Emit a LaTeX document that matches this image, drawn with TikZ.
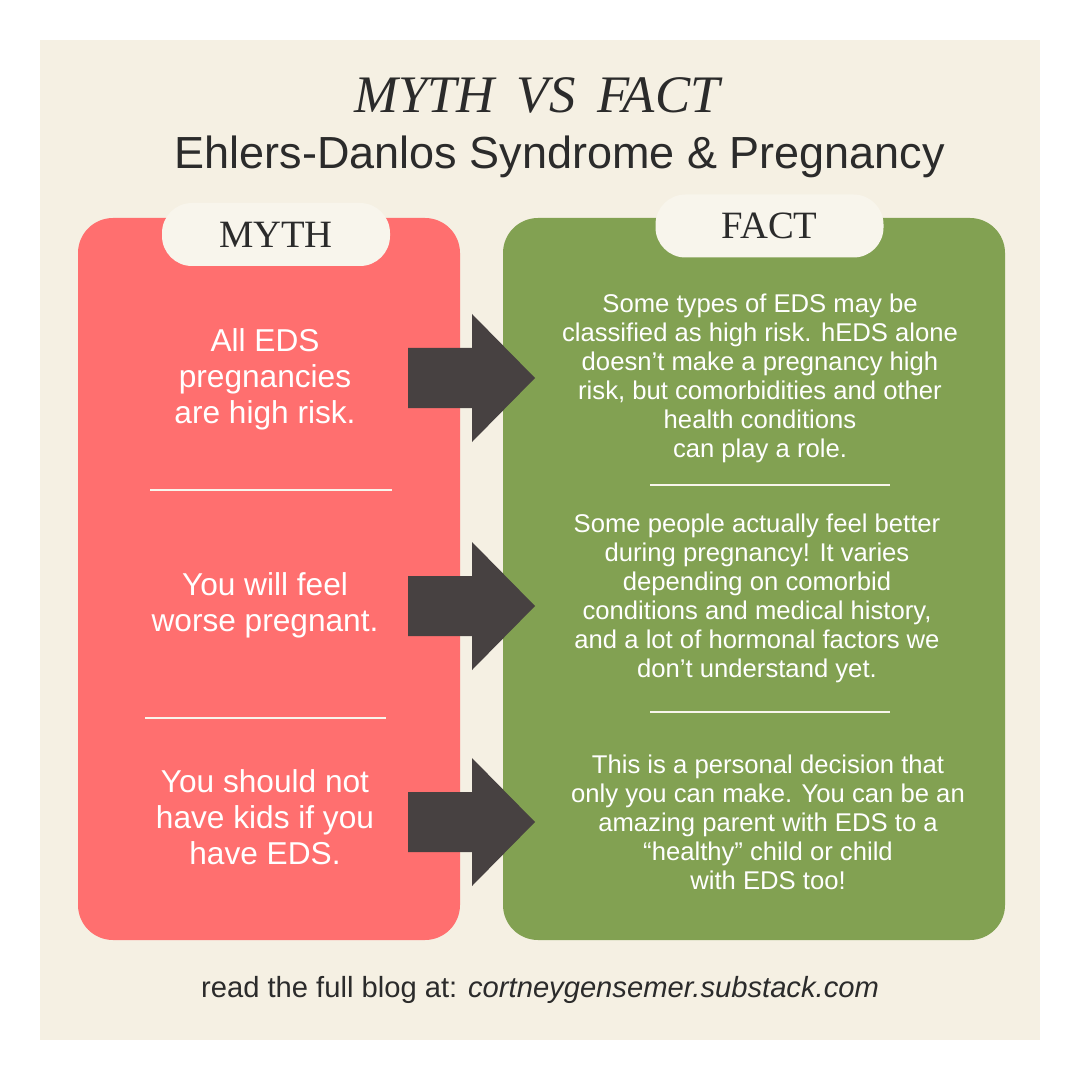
\documentclass[tikz,border=0pt]{standalone}
\usepackage{fontspec}
\setmainfont{Liberation Sans}
\newfontfamily\titlefont{Liberation Serif}
\definecolor{beige}{HTML}{F5F0E3}
\definecolor{mythred}{HTML}{FF6F6F}
\definecolor{factgreen}{HTML}{82A152}
\definecolor{pill}{HTML}{F8F5EC}
\definecolor{arrowgray}{HTML}{474141}
\definecolor{ink}{HTML}{2B2B2B}
\tikzset{
  panel/.style={rounded corners=0.35cm},
  pilltag/.style={fill=pill, rounded corners=0.3cm, minimum width=2.28cm, minimum height=0.63cm, font=\titlefont\fontsize{11}{12}\selectfont, text=ink},
  mythtext/.style={text=white, align=center, font=\fontsize{9}{10.2}\selectfont},
  facttext/.style={text=white, align=center, font=\fontsize{7.3}{8.25}\selectfont},
  bigarrow/.style={fill=arrowgray},
  divider/.style={draw=pill, line width=0.3pt}
}
\newcommand{\mytharrow}[1]{% centre height
  \fill[bigarrow] (4.08,-#1+0.3) -- (4.72,-#1+0.3) -- (4.72,-#1+0.64) -- (5.35,-#1) -- (4.72,-#1-0.64) -- (4.72,-#1-0.3) -- (4.08,-#1-0.3) -- cycle;}
\begin{document}
\begin{tikzpicture}[x=1cm, y=1cm]
  \useasboundingbox (0,0) rectangle (10.8,-10.8);
  \fill[white] (0,0) rectangle (10.8,-10.8);
  \fill[beige] (0.4,-0.4) rectangle (10.4,-10.4);
  % title
  \node[font=\titlefont\itshape\fontsize{15}{18}\selectfont, text=ink] (title) at (5.37,-0.95) {MYTH\, VS\, FACT};
  \node[font=\fontsize{12.8}{14}\selectfont, text=ink] (subtitle) at (5.6,-1.57) {Ehlers-Danlos Syndrome \& Pregnancy};
  % panels
  \fill[mythred, panel] (0.78,-2.18) rectangle (4.60,-9.40);
  \fill[factgreen, panel] (5.03,-2.18) rectangle (10.05,-9.40);
  \node[pilltag] (myth) at (2.76,-2.345) {MYTH};
  \node[pilltag] (fact) at (7.695,-2.26) {FACT};
  % arrows
  \mytharrow{3.78}
  \mytharrow{6.06}
  \mytharrow{8.22}
  % dividers
  \draw[divider] (1.50,-4.90) -- (3.92,-4.90);
  \draw[divider] (1.45,-7.18) -- (3.86,-7.18);
  \draw[divider] (6.50,-4.85) -- (8.90,-4.85);
  \draw[divider] (6.50,-7.12) -- (8.90,-7.12);
  % myths
  \node[mythtext] (m1) at (2.65,-3.79) {All EDS\\pregnancies\\are high risk.};
  \node[mythtext] (m2) at (2.65,-6.05) {You will feel\\worse pregnant.};
  \node[mythtext] (m3) at (2.65,-8.17) {You should not\\have kids if you\\have EDS.};
  % facts
  \node[facttext] (f1) at (7.60,-3.78) {Some types of EDS may be\\classified as high risk. hEDS alone\\doesn’t make a pregnancy high\\risk, but comorbidities and other\\health conditions\\can play a role.};
  \node[facttext] (f2) at (7.57,-5.98) {Some people actually feel better\\during pregnancy! It varies\\depending on comorbid\\conditions and medical history,\\and a lot of hormonal factors we\\don’t understand yet.};
  \node[facttext] (f3) at (7.68,-8.22) {This is a personal decision that\\only you can make. You can be an\\amazing parent with EDS to a\\“healthy” child or child\\with EDS too!};
  % footer
  \node[font=\fontsize{8.3}{9}\selectfont, text=ink] (footer) at (5.4,-9.90) {read the full blog at: \textit{cortneygensemer.substack.com}};
\end{tikzpicture}
\end{document}
